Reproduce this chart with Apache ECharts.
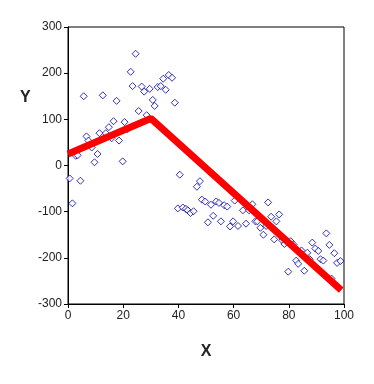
<!DOCTYPE html>
<html>
<head>
<meta charset="utf-8">
<script src="https://cdn.jsdelivr.net/npm/echarts@6/dist/echarts.min.js"></script>
<style>
  html, body { margin: 0; padding: 0; background: #fff; }
  #chart { width: 374px; height: 384px; }
</style>
</head>
<body>
<div id="chart"></div>
<script>
  // scatter points
  const xs = [0.6, 1.6, 2.8, 3.5, 4.5, 5.7, 6.7, 7.4, 8.6, 9.6, 10.7, 11.4, 12.6, 13.7, 14.8, 15.8, 16.5, 17.6, 18.5, 19.8,
    20.5, 21.6, 22.7, 23.4, 24.5, 25.6, 26.7, 27.6, 28.5, 29.6, 30.7, 31.4, 32.5, 33.6, 34.5, 35.4, 36.5, 37.7, 38.7, 39.8,
    40.5, 41.6, 42.7, 43.4, 44.4, 45.5, 46.7, 47.8, 48.5, 49.7, 50.7, 51.8, 52.6, 53.7, 54.7, 55.4, 56.6, 57.7, 58.7, 59.8,
    60.4, 61.6, 63.4, 64.5, 65.6, 66.8, 67.9, 68.6, 69.7, 70.8, 71.8, 72.5, 73.6, 74.7, 75.5, 76.5, 77.6, 78.4, 79.8, 80.7,
    81.7, 82.7, 83.4, 84.6, 85.6, 86.7, 87.6, 88.5, 89.6, 90.7, 91.5, 92.5, 93.6, 94.7, 95.5, 96.5, 97.5, 98.7]
  const ys = [-28, -82, 21, 22, -33, 150, 63, 54, 39, 7, 25, 70, 152, 70, 83, 59, 96, 140, 54, 9,
    94, 79, 203, 172, 242, 118, 171, 160, 109, 166, 142, 129, 170, 172, 188, 164, 196, 190, 136, -93,
    -20, -91, -94, -97, -103, -99, -46, -34, -74, -78, -123, -85, -109, -78, -81, -121, -86, -89, -132, -121,
    -76, -131, -97, -126, -97, -84, -121, -121, -135, -150, -131, -80, -111, -160, -121, -106, -162, -170, -230, -164,
    -171, -206, -213, -184, -228, -189, -203, -167, -180, -185, -203, -206, -147, -172, -245, -190, -211, -207]

  // fitted piecewise line
  const lineX = [0, 30, 99]
  const lineY = [25, 102, -270]

  const xTicks = [0, 20, 40, 60, 80, 100]
  const yTicks = [-300, -200, -100, 0, 100, 200, 300]

  const chart = echarts.init(document.getElementById('chart'))

  const font = 'Arial, "Liberation Sans", sans-serif'

  chart.setOption({
    animation: false,
    grid: {
      left: 68,
      right: 30,
      top: 27,
      bottom: 80,
      show: true,
      borderColor: '#000',
      borderWidth: 1
    },
    xAxis: {
      type: 'value',
      min: xTicks[0],
      max: xTicks[xTicks.length - 1],
      interval: 20,
      name: 'X',
      nameLocation: 'middle',
      nameGap: 40,
      nameTextStyle: { fontFamily: font, fontSize: 16, fontWeight: 'bold', color: '#222' },
      axisLine: { onZero: false, lineStyle: { color: '#000' } },
      axisTick: { length: 4, lineStyle: { color: '#000' } },
      axisLabel: { fontFamily: font, fontSize: 12, color: '#222', margin: 6 },
      splitLine: { show: false }
    },
    yAxis: {
      type: 'value',
      min: yTicks[0],
      max: yTicks[yTicks.length - 1],
      interval: 100,
      axisLine: { show: true, onZero: false, lineStyle: { color: '#000' } },
      axisTick: { show: true, length: 4, lineStyle: { color: '#000' } },
      axisLabel: { fontFamily: font, fontSize: 12, color: '#222', margin: 6 },
      splitLine: { show: false }
    },
    graphic: [{
      type: 'text',
      left: 20,
      top: 90,
      style: { text: 'Y', font: 'bold 16px ' + font, fill: '#222' }
    }],
    series: [{
      type: 'scatter',
      data: xs.map((x, i) => [x, ys[i]]),
      symbol: 'diamond',
      symbolSize: 7,
      itemStyle: { color: '#fff', borderColor: '#0000aa', borderWidth: 1 },
      z: 2
    }, {
      type: 'line',
      data: lineX.map((x, i) => [x, lineY[i]]),
      showSymbol: false,
      lineStyle: { color: '#ff0000', width: 7 },
      z: 3
    }]
  })
</script>
</body>
</html>
